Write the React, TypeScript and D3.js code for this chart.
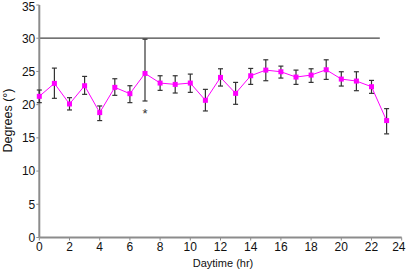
import React from "react";
import * as d3 from "d3";

const hours = [0, 1, 2, 3, 4, 5, 6, 7, 8, 9, 10, 11, 12, 13, 14, 15, 16, 17, 18, 19, 20, 21, 22, 23];
const means = [21.25, 23.2, 20.1, 22.85, 18.8, 22.6, 21.65, 24.7, 23.25, 23.05, 23.25, 20.65, 24.1, 21.7, 24.35, 25.2, 24.95, 24.15, 24.45, 25.25, 23.85, 23.55, 22.7, 17.6];
const upper = [22.2, 25.5, 21.05, 24.25, 19.8, 23.9, 22.85, 29.85, 24.35, 24.35, 24.6, 22.3, 25.4, 23.35, 25.45, 26.75, 25.8, 25.2, 25.4, 26.75, 24.95, 24.95, 23.65, 19.4];
const lower = [20.3, 20.95, 19.2, 21.55, 17.6, 21.4, 20.3, 20.55, 22.15, 21.75, 21.85, 19.05, 22.8, 20.05, 23.05, 23.6, 24.0, 23.05, 23.35, 23.8, 22.8, 22.1, 21.7, 15.6];
const xTicks = [0, 2, 4, 6, 8, 10, 12, 14, 16, 18, 20, 22, 24];
const yTicks = [0, 5, 10, 15, 20, 25, 30, 35];
const refLine = { value: 30, from: 0, to: 22.55 };
const starHour = 7;

export default function App() {
  const W = 406, H = 270;
  const x = d3.scaleLinear().domain([0, 24]).range([39.3, 401.7]);
  const y = d3.scaleLinear().domain([0, 35]).range([237.5, 5]);
  const line = d3.line<number>().x((_, i) => x(hours[i])).y((d) => y(d));
  const font = "'Liberation Sans', Arial, Helvetica, sans-serif";
  const axisColor = "#8c8c8c";
  return (
    <svg width={W} height={H} style={{ position: "absolute", left: 0, top: 0 }} fontFamily={font}>
      <rect width={W} height={H} fill="#fff" />
      <line x1={x(refLine.from)} x2={x(refLine.to)} y1={y(refLine.value)} y2={y(refLine.value)} stroke="#444" strokeWidth={1.3} />
      <line x1={x(0)} x2={x(0)} y1={y(0)} y2={y(35)} stroke={axisColor} strokeWidth={2} />
      <line x1={x(0)} x2={x(24)} y1={y(0)} y2={y(0)} stroke={axisColor} strokeWidth={2} />
      {yTicks.map((t) => (
        <g key={"y" + t}>
          <line x1={x(0) - 3} x2={x(0)} y1={y(t)} y2={y(t)} stroke={axisColor} strokeWidth={1} />
          <text x={x(0) - 4} y={Math.max(y(t), 6.5)} dy="0.36em" textAnchor="end" fontSize={12} fill="#111">{t}</text>
        </g>
      ))}
      {xTicks.map((t, i) => {
        const last = i === xTicks.length - 1;
        return (
          <g key={"x" + t}>
            <line x1={x(t)} x2={x(t)} y1={y(0)} y2={y(0) + 3} stroke={axisColor} strokeWidth={1} />
            <text x={last ? W - 0.5 : x(t)} y={y(0) + 13} textAnchor={last ? "end" : "middle"} fontSize={12} fill="#111">{t}</text>
          </g>
        );
      })}
      <text x={223} y={267} textAnchor="middle" fontSize={11} fill="#111">Daytime (hr)</text>
      <text transform={`translate(12,120.5) rotate(-90)`} textAnchor="middle" fontSize={12.5} fill="#111">Degrees (°)</text>
      {hours.map((h, i) => (
        <g key={"e" + h} stroke="#333" strokeWidth={1.2}>
          <line x1={x(h)} x2={x(h)} y1={y(upper[i])} y2={y(lower[i])} />
          <line x1={x(h) - 2.5} x2={x(h) + 2.5} y1={y(upper[i])} y2={y(upper[i])} />
          <line x1={x(h) - 2.5} x2={x(h) + 2.5} y1={y(lower[i])} y2={y(lower[i])} />
        </g>
      ))}
      <path d={line(means) || ""} fill="none" stroke="#ff00ff" strokeWidth={1} />
      {hours.map((h, i) => (
        <rect key={"m" + h} x={x(h) - 2.5} y={y(means[i]) - 2.5} width={5} height={5} fill="#ff00ff" />
      ))}
      <text x={x(starHour)} y={y(lower[hours.indexOf(starHour)]) + 17} textAnchor="middle" fontSize={13} fill="#333">*</text>
    </svg>
  );
}
